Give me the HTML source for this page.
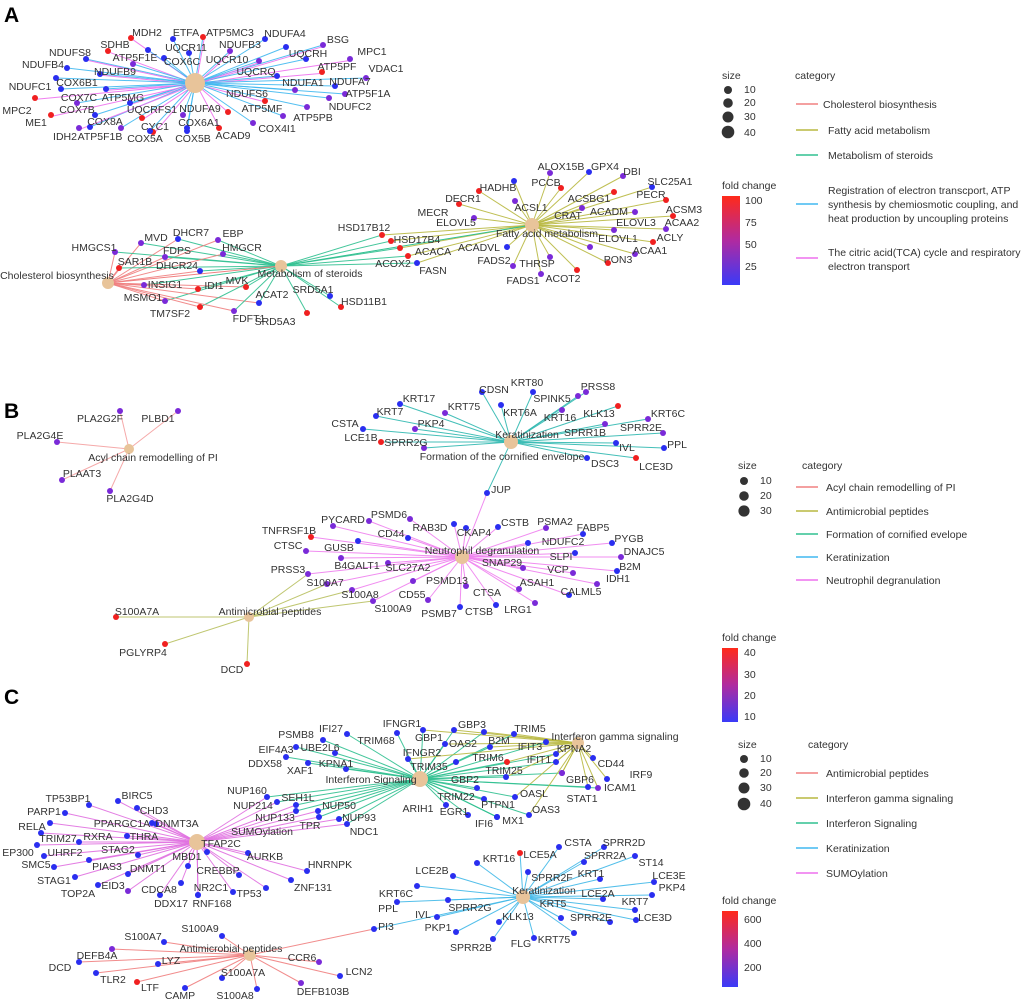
<!DOCTYPE html>
<html><head><meta charset="utf-8"><style>
html,body{margin:0;padding:0;background:#fff}
svg{display:block}
text{font-family:"Liberation Sans",Arial,sans-serif}
.g{font-size:10.5px;fill:#333}
.h{font-size:10.5px;fill:#333}
.lg{font-size:10.5px;fill:#333}
.L{font-size:21px;font-weight:bold;fill:#000}
</style></head><body>
<svg id="s" width="1024" height="1002" viewBox="0 0 1024 1002" xmlns="http://www.w3.org/2000/svg">
<defs>
<linearGradient id="fc" x1="0" y1="1" x2="0" y2="0"><stop offset="0" stop-color="#3a3af8"/><stop offset="0.5" stop-color="#b02aa0"/><stop offset="1" stop-color="#ff2a1a"/></linearGradient>
</defs>
<g id="E"></g><g id="N"></g><g id="T"></g>
<text class="L" x="4" y="22">A</text>
<text class="L" x="4" y="418">B</text>
<text class="L" x="4" y="704">C</text>
<g class="lg">
<text x="722" y="79">size</text>
<circle cx="728" cy="90" r="4"/><text x="744" y="93">10</text>
<circle cx="728" cy="103" r="4.8"/><text x="744" y="106">20</text>
<circle cx="728" cy="117" r="5.5"/><text x="744" y="120">30</text>
<circle cx="728" cy="132" r="6.3"/><text x="744" y="136">40</text>
<text x="795" y="79">category</text>
<line x1="796" y1="104" x2="818" y2="104" stroke="#f08080" stroke-width="1.5"/><text x="823" y="108">Cholesterol biosynthesis</text>
<line x1="796" y1="130" x2="818" y2="130" stroke="#b8b840" stroke-width="1.5"/><text x="828" y="134">Fatty acid metabolism</text>
<line x1="796" y1="155" x2="818" y2="155" stroke="#30c090" stroke-width="1.5"/><text x="828" y="159">Metabolism of steroids</text>
<line x1="796" y1="204" x2="818" y2="204" stroke="#40b8f0" stroke-width="1.5"/><text x="828" y="194">Registration of electron transcport, ATP</text><text x="828" y="208">synthesis by chemiosmotic coupling, and</text><text x="828" y="222">heat production by uncoupling proteins</text>
<line x1="796" y1="258" x2="818" y2="258" stroke="#ee70ee" stroke-width="1.5"/><text x="828" y="256">The citric acid(TCA) cycle and respiratory</text><text x="828" y="270">electron transport</text>
<text x="722" y="189">fold change</text>
<rect x="722" y="196" width="18" height="89" fill="url(#fc)"/>
<text x="745" y="204">100</text><text x="745" y="226">75</text><text x="745" y="248">50</text><text x="745" y="270">25</text>
</g>
<g class="lg">
<text x="738" y="469">size</text>
<circle cx="744" cy="481" r="4"/><text x="760" y="484">10</text>
<circle cx="744" cy="496" r="4.8"/><text x="760" y="499">20</text>
<circle cx="744" cy="511" r="5.6"/><text x="760" y="514">30</text>
<text x="802" y="469">category</text>
<line x1="796" y1="487" x2="818" y2="487" stroke="#f08080" stroke-width="1.5"/><text x="826" y="491">Acyl chain remodelling of PI</text>
<line x1="796" y1="511" x2="818" y2="511" stroke="#b8b840" stroke-width="1.5"/><text x="826" y="515">Antimicrobial peptides</text>
<line x1="796" y1="534" x2="818" y2="534" stroke="#30c090" stroke-width="1.5"/><text x="826" y="538">Formation of cornified evelope</text>
<line x1="796" y1="557" x2="818" y2="557" stroke="#40b8f0" stroke-width="1.5"/><text x="826" y="561">Keratinization</text>
<line x1="796" y1="580" x2="818" y2="580" stroke="#ee70ee" stroke-width="1.5"/><text x="826" y="584">Neutrophil degranulation</text>
<text x="722" y="641">fold change</text>
<rect x="722" y="648" width="16" height="74" fill="url(#fc)"/>
<text x="744" y="656">40</text><text x="744" y="678">30</text><text x="744" y="699">20</text><text x="744" y="720">10</text>
</g>
<g class="lg">
<text x="738" y="748">size</text>
<circle cx="744" cy="759" r="4"/><text x="760" y="762">10</text>
<circle cx="744" cy="773" r="4.8"/><text x="760" y="776">20</text>
<circle cx="744" cy="788" r="5.5"/><text x="760" y="791">30</text>
<circle cx="744" cy="804" r="6.3"/><text x="760" y="807">40</text>
<text x="808" y="748">category</text>
<line x1="796" y1="773" x2="818" y2="773" stroke="#f08080" stroke-width="1.5"/><text x="826" y="777">Antimicrobial peptides</text>
<line x1="796" y1="798" x2="818" y2="798" stroke="#b8b840" stroke-width="1.5"/><text x="826" y="802">Interferon gamma signaling</text>
<line x1="796" y1="823" x2="818" y2="823" stroke="#30c090" stroke-width="1.5"/><text x="826" y="827">Interferon Signaling</text>
<line x1="796" y1="848" x2="818" y2="848" stroke="#40b8f0" stroke-width="1.5"/><text x="826" y="852">Keratinization</text>
<line x1="796" y1="873" x2="818" y2="873" stroke="#ee70ee" stroke-width="1.5"/><text x="826" y="877">SUMOylation</text>
<text x="722" y="904">fold change</text>
<rect x="722" y="911" width="16" height="76" fill="url(#fc)"/>
<text x="744" y="923">600</text><text x="744" y="947">400</text><text x="744" y="971">200</text>
</g>
</svg>
<script>
var HUB={T:[195,83,10],c:[108,283,6],s:[281,266,6],f:[532,225,7],a:[129,449,5],k:[511,442,7],n:[462,557,7],m:[249,617,5],i:[420,779,8],g:[578,743,6],u:[197,842,8],K:[523,897,7],M:[250,955,6]};
var EC={T:"#40b8f0",P:"#ee70ee",c:"#f08080",s:"#30c090",f:"#b8b840",a:"#f4a0a0",k:"#30b8b0",n:"#ee80ee",m:"#b8c060",i:"#30c090",g:"#b8b840",u:"#e070e0",K:"#40b8e8",M:"#f08080"};
var HK={P:"T"};
var COL={r:"#f02020",b:"#2a2ef0",p:"#7a2ad8"};
var G=[
["MDH2",147,32,131,38,"r","P"],["ETFA",186,32,173,39,"b","T"],["ATP5MC3",230,32,203,37,"r","TP"],["NDUFA4",285,33,265,39,"b","T"],
["BSG",338,39,323,45,"p","TP"],["SDHB",115,44,108,51,"r","P"],["UQCR11",186,47,189,53,"b","T"],["NDUFB3",240,44,230,51,"p","TP"],
["",0,0,286,47,"b","T"],["UQCRH",308,53,306,59,"b","T"],["NDUFS8",70,52,86,59,"b","TP"],["ATP5F1E",135,57,148,50,"b","T"],
["COX6C",182,61,164,58,"b","T"],["UQCR10",227,59,259,61,"p","TP"],["ATP5PF",337,66,322,72,"r","P"],["MPC1",372,51,350,59,"p","P"],
["VDAC1",386,68,366,78,"p","T"],["NDUFB4",43,64,67,68,"b","T"],["NDUFB9",115,71,100,74,"b","TP"],["",0,0,133,64,"p","T"],
["UQCRQ",256,71,277,76,"b","T"],["NDUFC1",30,86,56,78,"b","T"],["COX6B1",77,82,61,89,"b","T"],["",0,0,106,89,"b","TP"],
["NDUFA1",303,82,295,90,"p","T"],["NDUFA7",350,81,335,86,"b","T"],["NDUFS6",247,93,265,101,"r","P"],["ATP5F1A",368,93,345,94,"p","T"],
["MPC2",17,110,35,98,"r","P"],["COX7C",79,97,77,103,"p","T"],["ATP5MG",123,97,130,103,"b","TP"],["COX7B",77,109,95,115,"b","T"],
["UQCRFS1",152,109,142,118,"r","P"],["NDUFA9",200,108,183,115,"p","T"],["",0,0,228,112,"r","P"],["ATP5MF",262,108,283,116,"p","T"],
["ATP5PB",313,117,307,107,"p","T"],["NDUFC2",350,106,329,98,"p","T"],["ME1",36,122,51,115,"r","P"],["COX8A",105,121,90,127,"b","T"],
["CYC1",155,126,153,132,"r","P"],["COX6A1",199,122,187,128,"b","T"],["COX4I1",277,128,253,123,"p","T"],["IDH2",65,136,79,128,"p","P"],
["ATP5F1B",100,136,121,128,"p","T"],["COX5A",145,138,150,131,"b","T"],["COX5B",193,138,187,131,"b","T"],["ACAD9",233,135,219,128,"r","P"],
["ALOX15B",561,166,550,173,"p","f"],["GPX4",605,166,589,172,"b","f"],["DBI",632,171,623,176,"p","f"],["HADHB",498,187,514,181,"b","f"],
["PCCB",546,182,561,188,"r","f"],["SLC25A1",670,181,652,187,"b","f"],["DECR1",463,198,479,191,"r","f"],["ACSBG1",589,198,614,192,"r","f"],
["PECR",651,194,666,200,"r","f"],["ACSL1",531,207,515,201,"p","f"],["MECR",433,212,459,204,"r","f"],["CRAT",568,215,582,208,"p","f"],
["ACADM",609,211,635,212,"p","f"],["ACSM3",684,209,673,216,"r","f"],["ELOVL5",456,222,474,218,"p","f"],["ELOVL3",636,222,614,230,"p","f"],
["ACAA2",682,222,666,229,"p","f"],["HSD17B12",364,227,382,235,"r","fs"],["HSD17B4",417,239,391,241,"r","fs"],["ELOVL1",618,238,590,247,"p","f"],
["ACLY",670,237,653,242,"r","f"],["ACACA",433,251,400,248,"r","fs"],["ACADVL",479,247,507,247,"b","f"],["ACAA1",650,250,635,254,"p","f"],
["ACOX2",393,263,408,256,"r","fs"],["FASN",433,270,417,263,"b","fs"],["FADS2",494,260,513,266,"p","f"],["THRSP",537,263,550,257,"p","f"],
["PON3",618,259,608,263,"r","f"],["FADS1",523,280,541,274,"p","f"],["ACOT2",563,278,577,270,"r","f"],
["MVD",156,237,141,243,"p","cs"],["DHCR7",191,232,178,239,"b","cs"],["EBP",233,233,218,240,"p","cs"],["HMGCS1",94,247,115,252,"p","cs"],
["FDPS",177,250,165,257,"p","cs"],["HMGCR",242,247,223,254,"p","cs"],["SAR1B",135,261,119,268,"r","cs"],["DHCR24",177,265,200,271,"b","cs"],
["INSIG1",165,284,144,285,"p","cs"],["IDI1",214,285,198,289,"r","cs"],["MVK",237,280,246,287,"r","cs"],["MSMO1",143,297,165,301,"p","cs"],
["ACAT2",272,294,259,303,"b","cs"],["SRD5A1",313,289,330,296,"b","s"],["HSD11B1",364,301,341,307,"r","s"],["TM7SF2",170,313,200,307,"r","cs"],
["FDFT1",249,318,234,311,"p","cs"],["SRD5A3",275,321,307,313,"r","s"],
["PLA2G2F",100,418,120,411,"p","a"],["PLBD1",158,418,178,411,"p","a"],["PLA2G4E",40,435,57,442,"p","a"],["PLAAT3",82,473,62,480,"p","a"],["PLA2G4D",130,498,110,491,"p","a"],
["CDSN",494,389,482,392,"b","k"],["KRT80",527,382,533,392,"b","k"],["PRSS8",598,386,586,392,"p","k"],["KRT17",419,398,400,404,"b","k"],
["SPINK5",552,398,578,396,"p","k"],["KRT75",464,406,445,413,"p","k"],["KRT7",390,411,376,416,"b","k"],["KRT6A",520,412,501,405,"b","k"],
["KRT16",560,417,562,410,"p","k"],["KLK13",599,413,618,406,"r","k"],["KRT6C",668,413,648,419,"p","k"],["CSTA",345,423,363,429,"b","k"],
["PKP4",431,423,415,429,"p","k"],["SPRR1B",585,432,605,424,"p","k"],["SPRR2E",641,427,663,433,"p","k"],["LCE1B",361,437,381,442,"r","k"],
["SPRR2G",406,442,424,448,"p","k"],["IVL",627,447,616,443,"b","k"],["PPL",677,444,664,448,"b","k"],["DSC3",605,463,587,458,"b","k"],
["LCE3D",656,466,636,458,"r","k"],["JUP",501,489,487,493,"b","kn"],
["PYCARD",343,519,333,526,"p","n"],["PSMD6",389,514,369,521,"p","n"],["",0,0,410,519,"p","n"],["RAB3D",430,527,454,524,"b","n"],
["CSTB",515,522,498,527,"b","n"],["PSMA2",555,521,546,528,"p","n"],["CD44",391,533,408,538,"b","n"],["CKAP4",474,532,466,528,"b","n"],
["FABP5",593,527,583,534,"b","n"],["TNFRSF1B",289,530,311,537,"r","n"],["NDUFC2",563,541,528,543,"b","n"],["PYGB",629,538,612,543,"b","n"],
["CTSC",288,545,306,551,"p","n"],["GUSB",339,547,358,541,"b","n"],["DNAJC5",644,551,621,557,"p","n"],["SLPI",561,556,575,553,"b","n"],
["B4GALT1",357,565,341,558,"p","n"],["SLC27A2",408,567,388,563,"p","n"],["SNAP29",502,562,523,568,"p","n"],["B2M",630,566,617,571,"b","n"],
["PRSS3",288,569,308,574,"p","nm"],["VCP",558,569,573,573,"p","n"],["IDH1",618,578,597,584,"p","n"],["S100A7",325,582,327,584,"p","nm"],
["PSMD13",447,580,413,581,"p","n"],["ASAH1",537,582,519,589,"p","n"],["CALML5",581,591,569,595,"b","n"],["CTSA",487,592,466,586,"p","n"],
["S100A8",360,594,352,590,"p","nm"],["CD55",412,594,428,600,"p","n"],["S100A9",393,608,373,601,"p","nm"],["PSMB7",439,613,460,607,"b","n"],
["CTSB",479,611,496,605,"b","n"],["LRG1",518,609,535,603,"p","n"],["S100A7A",137,611,116,617,"r","m"],["PGLYRP4",143,652,165,644,"r","m"],["DCD",232,669,247,664,"r","m"],
["IFNGR1",402,723,423,730,"b","ig"],["GBP3",472,724,454,730,"b","ig"],["TRIM5",530,728,514,734,"b","ig"],["IFI27",331,728,347,734,"b","i"],
["PSMB8",296,734,323,740,"b","i"],["GBP1",429,737,445,744,"b","ig"],["B2M",499,740,484,732,"b","ig"],["TRIM68",376,740,397,733,"b","i"],
["OAS2",463,743,490,747,"b","ig"],["IFIT3",530,746,546,742,"b","ig"],["KPNA2",574,748,556,754,"b","ig"],["EIF4A3",276,749,296,747,"b","i"],
["UBE2L6",320,747,335,753,"b","i"],["IFNGR2",422,752,408,759,"b","ig"],["DDX58",265,763,286,757,"b","i"],["KPNA1",336,763,346,769,"b","i"],
["TRIM6",488,757,507,762,"r","ig"],["IFIT1",539,759,556,762,"b","ig"],["CD44",611,763,593,758,"b","g"],["TRIM35",429,766,456,762,"b","i"],
["XAF1",300,770,308,763,"b","i"],["TRIM25",504,770,562,773,"p","ig"],["IRF9",641,774,607,779,"b","g"],["GBP2",465,779,506,777,"b","ig"],
["GBP6",580,779,562,773,"p","g"],["ICAM1",620,787,598,788,"p","ig"],["TRIM22",456,796,477,788,"b","i"],["OASL",534,793,515,797,"b","ig"],
["STAT1",582,798,588,787,"b","ig"],["PTPN1",498,804,484,799,"b","i"],["ARIH1",418,808,446,805,"b","i"],["EGR1",454,811,468,815,"b","i"],
["OAS3",546,809,529,815,"b","ig"],["IFI6",484,823,497,817,"b","i"],["MX1",513,820,497,817,"b","i"],
["NUP160",247,790,267,797,"b","iu"],["SEH1L",298,797,277,802,"b","iu"],["NUP214",253,805,296,805,"b","iu"],["NUP50",339,805,318,811,"b","iu"],
["NUP133",275,817,296,811,"b","iu"],["NUP93",359,817,339,819,"b","iu"],["TPR",310,825,319,817,"b","iu"],["NDC1",364,831,347,824,"b","iu"],
["TP53BP1",68,798,89,805,"b","u"],["BIRC5",137,795,118,801,"b","u"],["CHD3",154,810,137,808,"b","u"],["PARP1",44,811,65,813,"b","u"],
["RELA",32,826,50,823,"b","u"],["PPARGC1A",122,823,152,823,"b","u"],["DNMT3A",177,823,156,824,"b","u"],["TRIM27",58,838,41,833,"b","u"],
["RXRA",98,836,79,842,"b","u"],["THRA",144,836,127,836,"b","u"],["EP300",18,852,37,845,"b","u"],["UHRF2",65,852,44,856,"b","u"],
["STAG2",118,849,138,855,"b","u"],["MBD1",187,856,207,852,"b","u"],["AURKB",265,856,248,853,"b","u"],["SMC5",36,864,54,867,"b","u"],
["PIAS3",107,866,89,860,"b","u"],["HNRNPK",330,864,307,871,"b","u"],["DNMT1",148,868,128,874,"b","u"],["CREBBP",218,870,188,866,"b","u"],
["STAG1",54,880,75,877,"b","u"],["EID3",113,885,98,885,"b","u"],["CDCA8",159,889,181,883,"b","u"],["NR2C1",211,887,198,895,"b","u"],
["ZNF131",313,887,291,880,"b","u"],["TOP2A",78,893,128,891,"p","u"],["TP53",249,893,233,892,"b","u"],["",0,0,266,888,"b","u"],["",0,0,239,875,"b","u"],
["DDX17",171,903,160,895,"b","u"],["RNF168",212,903,198,895,"b","u"],
["CSTA",578,842,559,847,"b","K"],["SPRR2D",624,842,604,847,"b","K"],["KRT16",499,858,477,863,"b","K"],["LCE5A",540,854,520,853,"r","K"],
["SPRR2A",605,855,584,862,"b","K"],["ST14",651,862,635,856,"b","K"],["LCE2B",432,870,453,876,"b","K"],["SPRR2F",552,877,528,872,"b","K"],
["KRT1",591,873,600,879,"b","K"],["LCE3E",669,875,654,882,"b","K"],["KRT6C",396,893,417,886,"b","K"],["LCE2A",598,893,603,899,"b","K"],
["PKP4",672,887,652,895,"b","K"],["PPL",388,908,397,902,"b","K"],["SPRR2G",470,907,448,900,"b","K"],["KRT5",553,903,561,918,"b","K"],
["KRT7",635,901,635,910,"b","K"],["IVL",423,914,437,917,"b","K"],["KLK13",518,916,499,922,"b","K"],["SPRR2E",591,917,610,922,"b","K"],
["LCE3D",655,917,636,920,"b","K"],["PI3",386,926,374,929,"b","KM"],["PKP1",438,927,456,932,"b","K"],["SPRR2B",471,947,493,939,"b","K"],
["FLG",521,943,534,938,"b","K"],["KRT75",554,939,574,933,"b","K"],
["S100A9",200,928,222,936,"b","M"],["S100A7",143,936,164,942,"b","M"],["DEFB4A",97,955,112,949,"p","M"],["CCR6",302,957,319,962,"p","M"],
["LYZ",171,960,158,964,"b","M"],["DCD",60,967,79,962,"b","M"],["LCN2",359,971,340,976,"b","M"],["S100A7A",243,972,222,978,"b","M"],
["TLR2",113,979,96,973,"b","M"],["LTF",150,987,137,982,"r","M"],["CAMP",180,995,185,988,"b","M"],["S100A8",235,995,257,989,"b","M"],["DEFB103B",323,991,301,983,"p","M"]
];
var HL=[["Cholesterol biosynthesis",57,275],["Metabolism of steroids",310,273],["Fatty acid metabolism",547,233],
["Acyl chain remodelling of PI",153,457],["Keratinization",527,434],["Formation of the cornified envelope",502,456],
["Neutrophil degranulation",482,550],["Antimicrobial peptides",270,611],
["Interferon gamma signaling",615,736],["Interferon Signaling",371,779],["SUMOylation",262,831],["TFAP2C",221,843],
["Keratinization",544,890],["Antimicrobial peptides",231,948]];
var NS="http://www.w3.org/2000/svg";
function el(t,a,p,tx){var e=document.createElementNS(NS,t);for(var k in a)e.setAttribute(k,a[k]);if(tx)e.textContent=tx;document.getElementById(p).appendChild(e);return e;}
G.forEach(function(g){
  var ed=g[6];
  for(var j=0;j<ed.length;j++){var key=ed[j];var h=HUB[HK[key]||key];var off=(key=="P")?1.2:0;
    el("line",{x1:h[0]+off,y1:h[1]+off,x2:g[3]+off,y2:g[4]+off,stroke:EC[key],"stroke-width":1,"stroke-opacity":0.9},"E");}
  el("circle",{cx:g[3],cy:g[4],r:3,fill:COL[g[5]]},"N");
  if(g[0])el("text",{x:g[1],y:g[2]+4,"text-anchor":"middle","class":"g"},"T",g[0]);
});
el("line",{x1:281,y1:266,x2:532,y2:225,stroke:"#30c090","stroke-width":1},"E");
el("line",{x1:108,y1:283,x2:281,y2:266,stroke:"#f08080","stroke-width":1},"E");
for(var k in HUB){var h=HUB[k];el("circle",{cx:h[0],cy:h[1],r:h[2],fill:"#e8c49a"},"N");}
HL.forEach(function(l){el("text",{x:l[1],y:l[2]+4,"text-anchor":"middle","class":"h"},"T",l[0]);});
</script>
</body></html>
